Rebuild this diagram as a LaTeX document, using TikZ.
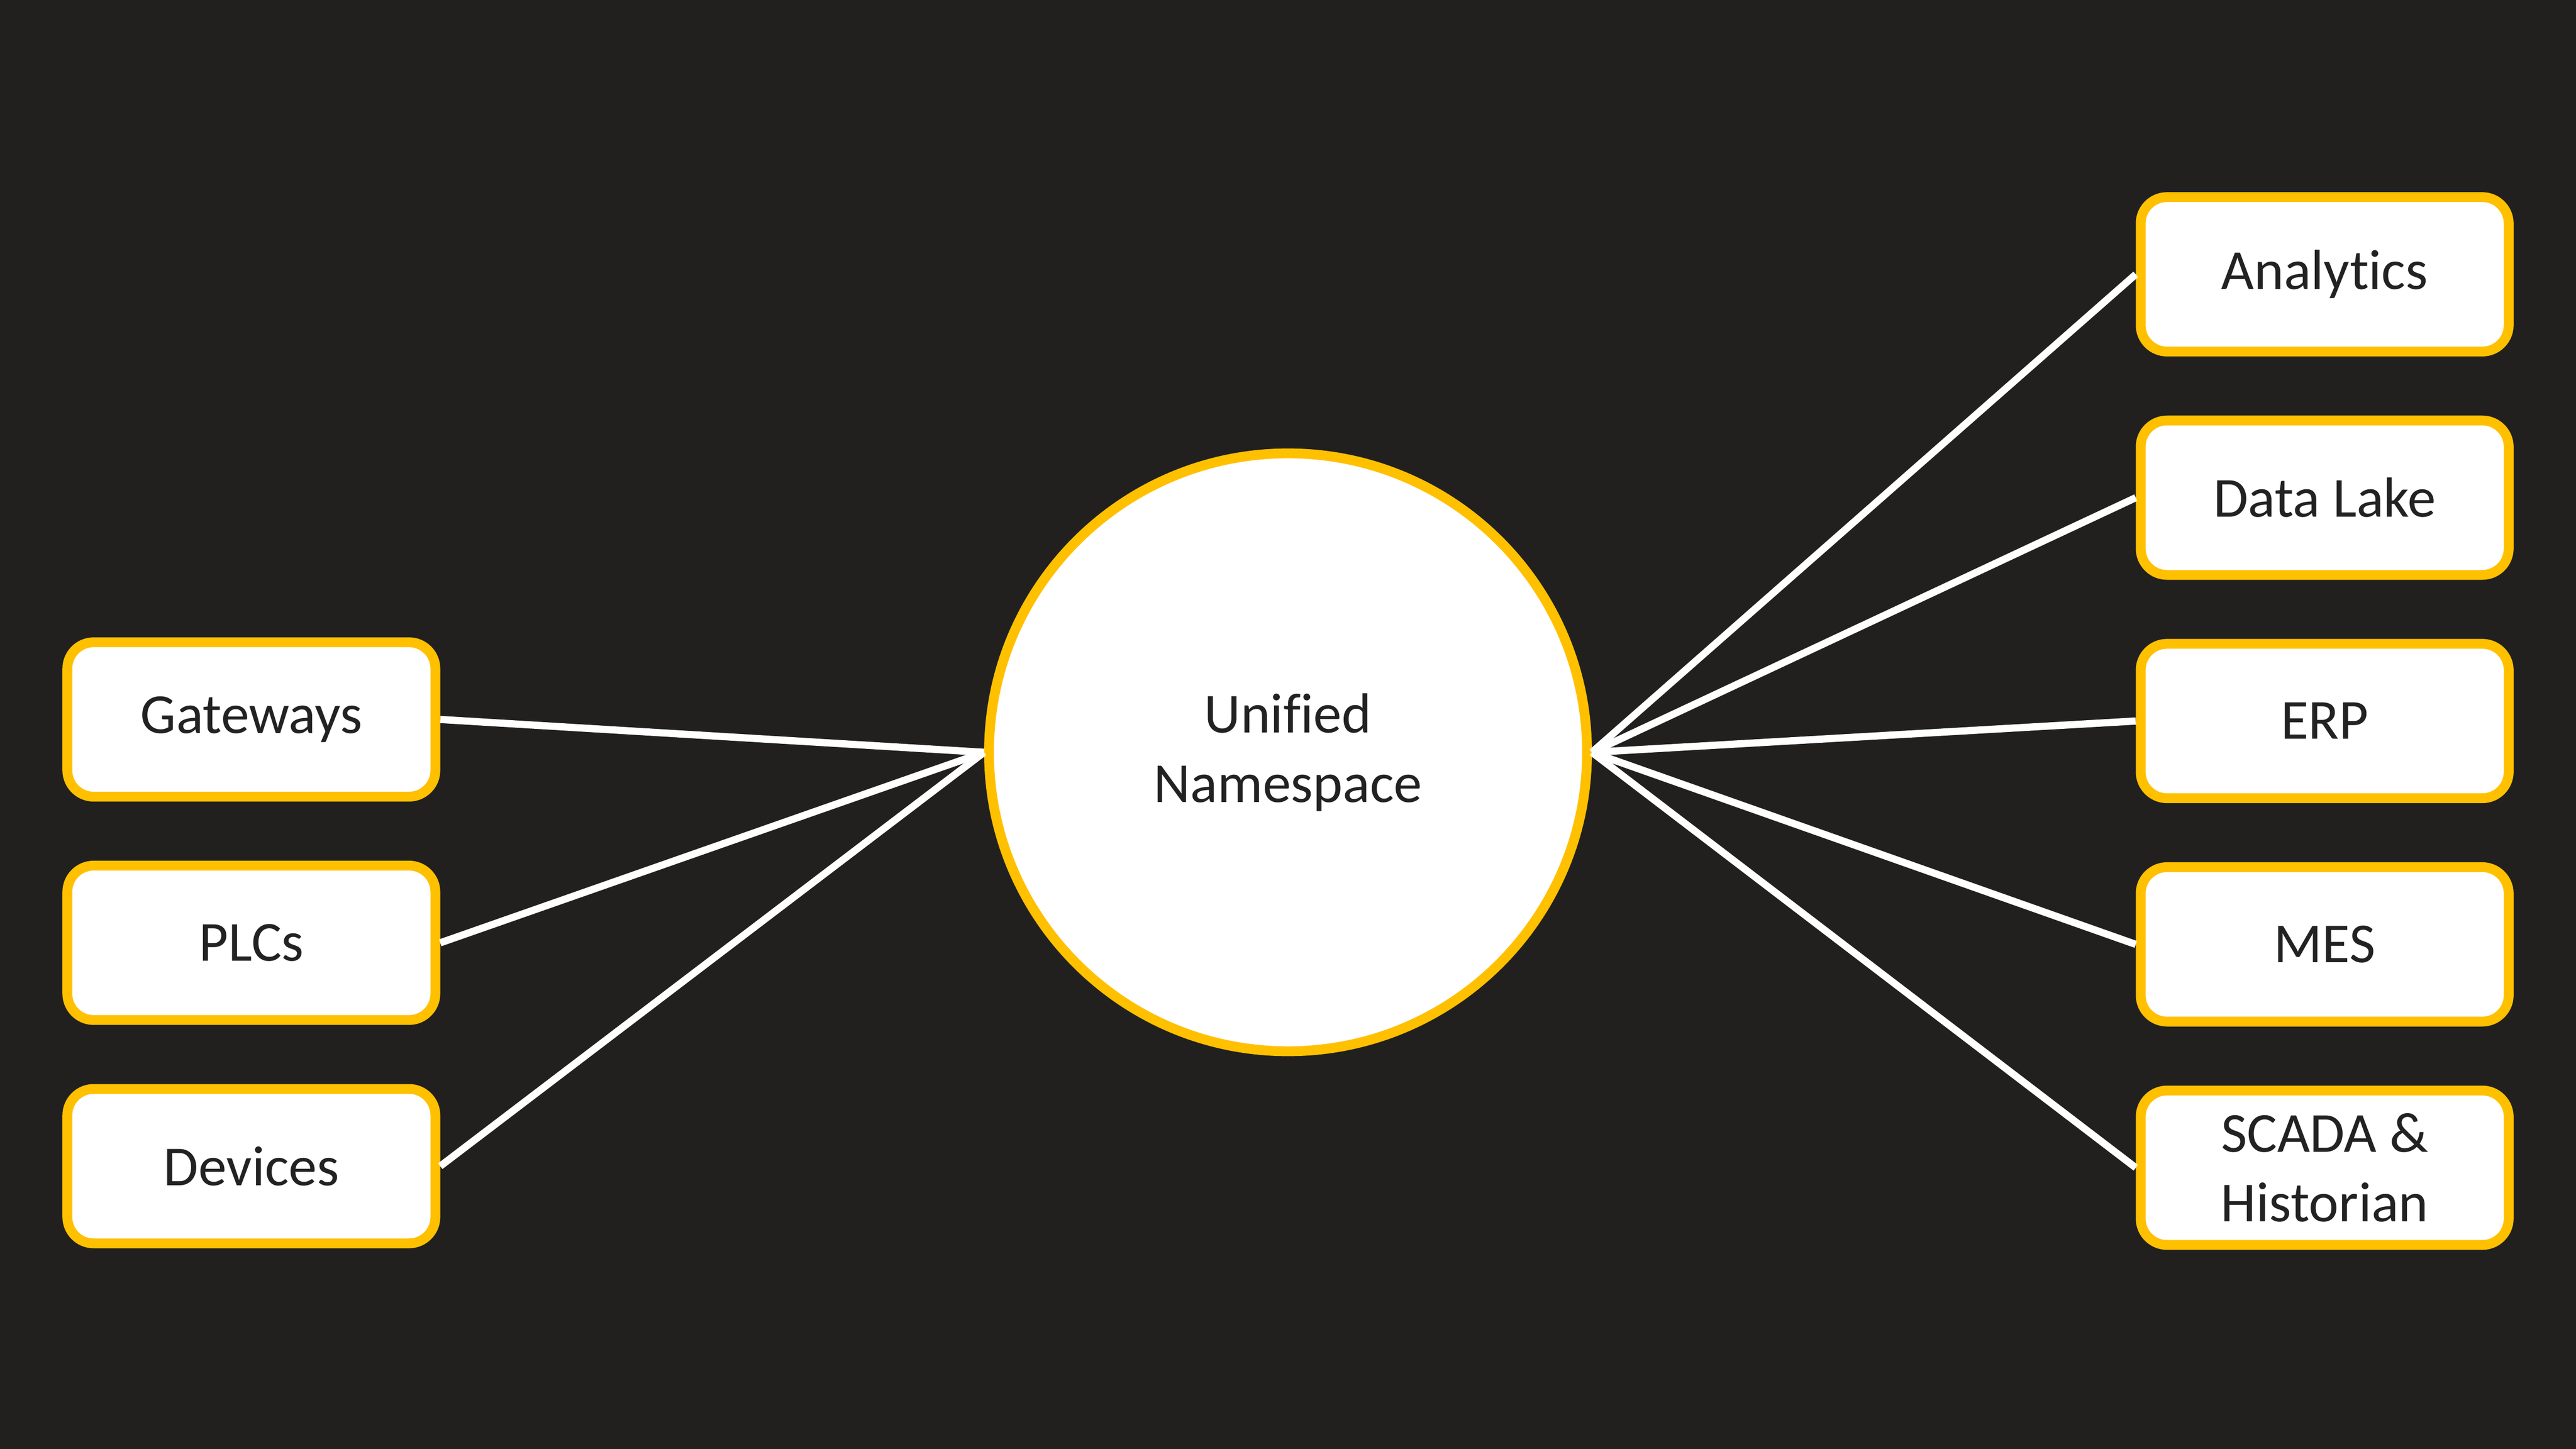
\documentclass[tikz,border=0pt]{standalone}
\usepackage{fontspec}
\setmainfont{Carlito}[Ligatures=NoCommon]
\usetikzlibrary{positioning}
\definecolor{bgdark}{HTML}{21201F}
\definecolor{gold}{HTML}{FFC000}
\definecolor{ink}{HTML}{222222}

\begin{document}
\begin{tikzpicture}[
  font=\fontsize{9.8}{12}\selectfont,
  sysbox/.style={draw=gold, fill=white, text=ink, line width=1.7pt, rounded corners=0.16cm,
    minimum width=2.24cm, minimum height=0.94cm, align=center, inner sep=0pt},
  hub/.style={circle, draw=gold, fill=white, text=ink, line width=1.7pt, minimum size=3.64cm,
    align=center, inner sep=0pt},
  link/.style={draw=white, line width=1.25pt},
  node distance=0.36cm]
\fill[bgdark] (0,0) rectangle (15.68,8.82);
\useasboundingbox (0,0) rectangle (15.68,8.82);
\node[hub] (uns) at (7.84,4.24) {Unified\\Namespace};
\node[sysbox] (gw) at (1.53,4.44) {Gateways};
\node[sysbox, below=of gw] (plc) {PLCs};
\node[sysbox, below=of plc] (dev) {Devices};
\node[sysbox] (ana) at (14.15,7.15) {Analytics};
\node[sysbox, below=of ana] (lake) {Data Lake};
\node[sysbox, below=of lake] (erp) {ERP};
\node[sysbox, below=of erp] (mes) {MES};
\node[sysbox, below=of mes] (scada) {SCADA \&\\Historian};
\foreach \s in {gw,plc,dev} \draw[link] (\s.east) -- (uns.west);
\foreach \s in {ana,lake,erp,mes,scada} \draw[link] (uns.east) -- (\s.west);
\end{tikzpicture}
\end{document}
